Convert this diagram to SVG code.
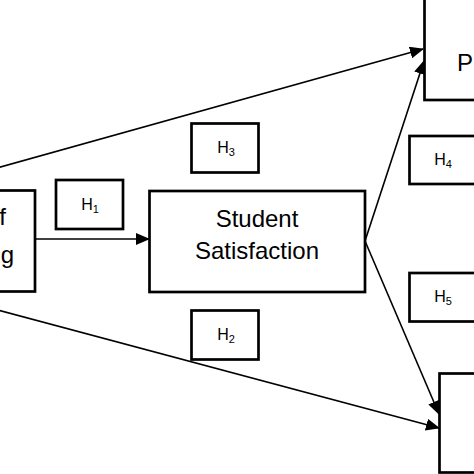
<svg xmlns="http://www.w3.org/2000/svg" width="474" height="474" viewBox="0 0 474 474">
<style>
.box{fill:#fff;stroke:#000;stroke-width:2.7}
.lbl{font-family:"Liberation Sans",Arial,sans-serif;font-size:24px;fill:#000;text-anchor:middle}
.h{font-family:"Liberation Sans",Arial,sans-serif;font-size:16px;fill:#000;text-anchor:middle}
.sub{font-size:11px}
.con{stroke:#000;stroke-width:1.6;fill:none;marker-end:url(#ah)}
</style>
<defs>
<marker id="ah" markerUnits="userSpaceOnUse" markerWidth="14" markerHeight="12" viewBox="0 0 14 12" refX="13" refY="6" orient="auto">
<path d="M0,0 L14,6 L0,12 Z" fill="#000"/>
</marker>
</defs>
<rect width="474" height="474" fill="#fff"/>
<g id="connectors">
<line class="con" x1="-10" y1="170" x2="423" y2="49"/>
<line class="con" x1="-10" y1="308" x2="439" y2="428"/>
<line class="con" x1="35" y1="239" x2="149" y2="239"/>
<line class="con" x1="365" y1="241" x2="424" y2="61"/>
<line class="con" x1="365" y1="241" x2="439" y2="414"/>
</g>
<g id="node-left">
<rect class="box" x="-40" y="190.5" width="75" height="101"/>
<text class="lbl" x="6" y="225" style="text-anchor:end">f</text>
<text class="lbl" x="14" y="263" style="text-anchor:end">g</text>
</g>
<g id="node-satisfaction">
<rect class="box" x="149.5" y="191" width="215.5" height="101"/>
<text class="lbl" x="257" y="227">Student</text>
<text class="lbl" x="257" y="259">Satisfaction</text>
</g>
<g id="node-top-right">
<rect class="box" x="424.5" y="-10" width="70" height="110"/>
<text class="lbl" x="457" y="71" style="text-anchor:start">P</text>
</g>
<g id="node-bottom-right">
<rect class="box" x="439.5" y="373.5" width="50" height="99"/>
</g>
<g id="h1">
<rect class="box" x="56" y="180" width="67" height="49"/>
<text class="h" x="90" y="210">H<tspan class="sub" dy="3">1</tspan></text>
</g>
<g id="h3">
<rect class="box" x="191.5" y="123.5" width="67" height="49"/>
<text class="h" x="226" y="153">H<tspan class="sub" dy="3">3</tspan></text>
</g>
<g id="h2">
<rect class="box" x="191.5" y="310.5" width="67" height="49"/>
<text class="h" x="226" y="340">H<tspan class="sub" dy="3">2</tspan></text>
</g>
<g id="h4">
<rect class="box" x="409.5" y="136" width="80" height="48"/>
<text class="h" x="443" y="165">H<tspan class="sub" dy="3">4</tspan></text>
</g>
<g id="h5">
<rect class="box" x="409.5" y="273" width="80" height="48.5"/>
<text class="h" x="443" y="302">H<tspan class="sub" dy="3">5</tspan></text>
</g>
</svg>
